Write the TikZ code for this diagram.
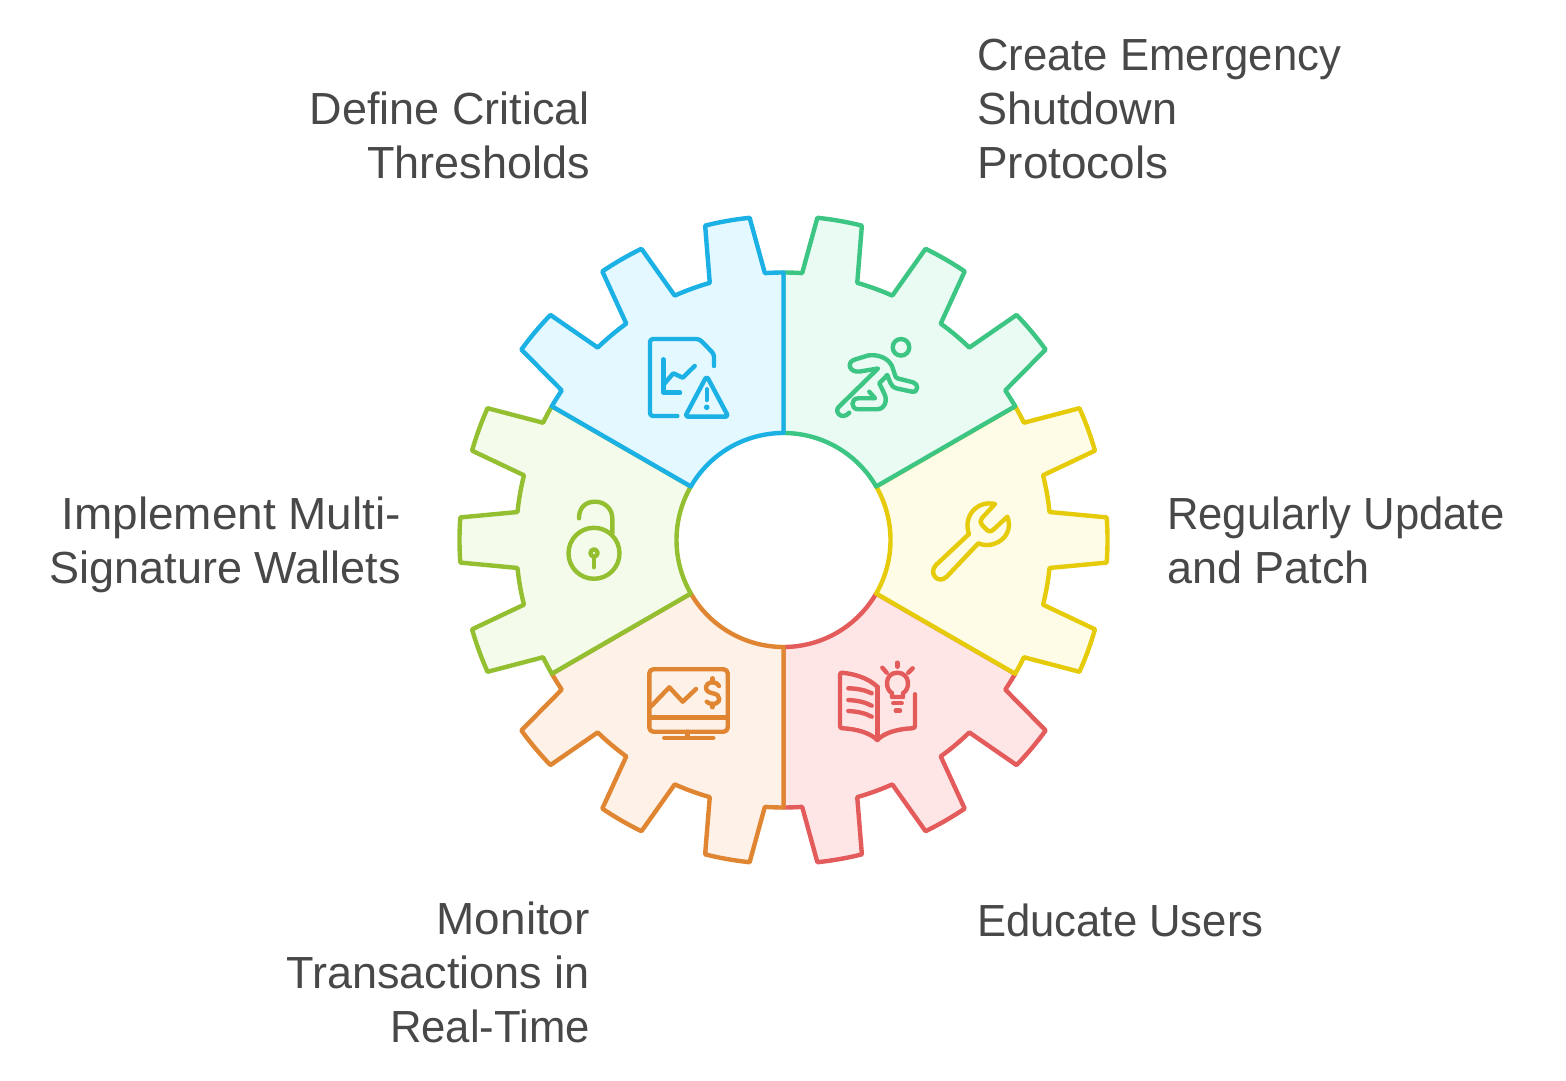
\documentclass[tikz,border=0pt]{standalone}
\usepackage{fontspec}
\setmainfont{Liberation Sans}
\newfontfamily\narrowface[FakeStretch=0.97]{Liberation Sans}
\newfontfamily\wideface[FakeStretch=1.02]{Liberation Sans}
\definecolor{blueline}{HTML}{1BB1E4}
\definecolor{bluefill}{HTML}{E4F8FF}
\definecolor{greenline}{HTML}{3CC583}
\definecolor{greenfill}{HTML}{E9FBF3}
\definecolor{yellowline}{HTML}{E5CB0A}
\definecolor{yellowfill}{HTML}{FEFCE6}
\definecolor{redline}{HTML}{E45B5B}
\definecolor{redfill}{HTML}{FFE6E6}
\definecolor{orangeline}{HTML}{E08632}
\definecolor{orangefill}{HTML}{FEF2E8}
\definecolor{limeline}{HTML}{93BF31}
\definecolor{limefill}{HTML}{F4FBEA}
\definecolor{textgrey}{HTML}{484848}

\begin{document}
\begin{tikzpicture}[x=1pt,y=1pt,
		sector/.style={line width=4.4pt,line join=round},
		icon/.style={line width=4.4pt,line cap=round,line join=round},
		imgframe/.style={shift={(0,1080)},yscale=-1},
		lbl/.style={inner sep=0pt,text=textgrey,font=\fontsize{45}{54}\selectfont}]
		\useasboundingbox (0,0) rectangle (1566,1080);
		
		\foreach \rot/\lin/\fil in {180/redline/redfill,240/yellowline/yellowfill,300/greenline/greenfill,120/orangeline/orangefill,60/limeline/limefill,0/blueline/bluefill}{
			\begin{scope}[shift={(783.5,540)},rotate=\rot]
				\draw[sector,draw=\lin,fill=\fil] (90:107) -- (90:267.5) arc[start angle=90,end angle=94,radius=267.5]
				\foreach \t/\e in {100/114,120/134,140/150}{
					-- (\t-4:324) arc[start angle=\t-4,end angle=\t+4,radius=324]
					-- (\t+6:267.5) arc[start angle=\t+6,end angle=\e,radius=267.5]
				}
				-- (150:107) arc[start angle=150,end angle=90,radius=107] -- cycle;
			\end{scope}
		}
		
		\begin{scope}[imgframe]
			\node[lbl,anchor=east,align=right] (define) at (590,135) {Define Critical\\Thresholds};
			\node[lbl,anchor=west,align=left] (create) at (977,109) {{\narrowface Create Emergency}\\Shutdown\\{\wideface Protocols}};
			\node[lbl,anchor=east,align=right] (multisig) at (401,545) {{\wideface Implement Multi-}\\Signature Wallets};
			\node[lbl,anchor=west,align=left] (patch) at (1167,540) {{\narrowface Regularly Update}\\and Patch};
			\node[lbl,anchor=east,align=right] (monitor) at (590,972) {{\wideface Monitor}\\Transactions in\\{\narrowface Real-Time}};
			\node[lbl,anchor=west,align=left] (educate) at (977,920) {{\narrowface Educate Users}};
			
			\begin{scope}[icon,color=blueline]
				\draw[rounded corners=3pt] (677.3,416) -- (650,416) -- (650,339) -- (699.3,339) -- (714,354) -- (714,366);
				\draw (663.3,359.3) -- (663.3,392.7) -- (680,392.7);
				\draw (663.3,385) -- (673.3,373.3) -- (682.7,377.7) -- (694.7,366);
				\draw[rounded corners=3pt] (706.7,376) -- (685,416.7) -- (728.4,416.7) -- cycle;
				\draw (706.7,389.3) -- (706.7,400);
				\fill (706.7,407.3) circle (2.8);
			\end{scope}
			
			\begin{scope}[icon,color=greenline]
				\draw (901,347.3) circle (8.3);
				\draw (849.3,412.7) .. controls (846,416.5) and (841.5,417) .. (838.8,414.2) .. controls (836.5,411.5) and (836.7,409) .. (839,406.7) -- (878,368.5) -- (860,371.5) .. controls (849,373) and (846,362) .. (855,359.5) -- (868,355.5) .. controls (878,354) and (888,358) .. (892,366) -- (895,375) .. controls (895.5,377) and (896,378) .. (898,378.5) -- (913,382.3) .. controls (919,384) and (918.5,392.5) .. (912,391.7) -- (897,388.5) .. controls (893,387.5) and (891,385) .. (890,382) -- (887.3,375) -- (879.3,383.3) -- (884,393) .. controls (888,400) and (885,409.3) .. (876.7,409.3) -- (858.3,409.3) .. controls (850.5,409.3) and (850.5,398.3) .. (858.3,398.3) -- (875,398.3) -- (869.3,391.7);
			\end{scope}
			
			\begin{scope}[icon,color=yellowline]
				\draw (995,504) .. controls (976.7,500) and (962.7,516.7) .. (969,534) -- (936,565) .. controls (928,573) and (938,585) .. (946.7,576.7) -- (978.3,543.3) .. controls (993.3,550) and (1015,536.7) .. (1007.3,516.7) -- (993,530) .. controls (991,532) and (989,532) .. (987,530) -- (982,525) .. controls (980,523) and (980,520) .. (982,518) -- cycle;
			\end{scope}
			
			\begin{scope}[icon,color=limeline]
				\draw (594,553.3) circle (25.5);
				\draw (579,518.3) .. controls (579,507) and (586,501.7) .. (595,501.7) .. controls (605,501.7) and (612.3,509) .. (612.3,518.3) -- (612.3,533.3);
				\draw (594,553) circle (3.6);
				\draw (594,557) -- (594,567.3);
			\end{scope}
			
			\begin{scope}[icon,color=orangeline]
				\draw[rounded corners=4pt] (649.3,669.3) rectangle (727.7,731.7);
				\draw (649.3,717.7) -- (727.7,717.7);
				\draw (687.3,731.7) -- (687.3,737.7);
				\draw (664.3,737.7) -- (713.3,737.7);
				\draw (650.7,706.7) -- (669.3,687.3) -- (682.7,701.7) -- (696,689);
				\draw (719,686) .. controls (717,683) and (715,682.3) .. (712.7,682.3) .. controls (709,682.3) and (706,684.5) .. (706,687.7) .. controls (706,691) and (709,692.5) .. (712.7,693.3) .. controls (717,694) and (719.3,696) .. (719.3,699) .. controls (719.3,702) and (716,704) .. (712.7,704) .. controls (710,704) and (708,703) .. (706.7,701.7);
				\draw (712.3,678.3) -- (712.3,682.3);
				\draw (712.3,704) -- (712.3,707.3);
			\end{scope}
			
			\begin{scope}[icon,color=redline]
				\draw (877.3,686.7) .. controls (868,678) and (855,674) .. (842,672.7) .. controls (840.7,672.6) and (840,673.5) .. (840,675) -- (840,726) .. controls (840,728) and (841,728.3) .. (843,728.3) .. controls (857,729) and (870,733) .. (877.3,740) .. controls (884,733) and (897,729) .. (912,728.3) .. controls (914,728.2) and (915,727.5) .. (915,726) -- (915,694.3);
				\draw (877.3,686.7) -- (877.3,740);
				\draw (848.3,688.3) .. controls (857,688.5) and (865,690) .. (871.7,693.3);
				\draw (848.3,700) .. controls (857,700.5) and (865,702) .. (871.7,705.7);
				\draw (848.3,711) .. controls (857,711.5) and (865,713) .. (871.7,716.7);
				\draw (892,697) -- (892,693) .. controls (885,690) and (884,673) .. (897.3,672.7) .. controls (911,673) and (910,690) .. (903,693) -- (903,697) -- cycle;
				\draw (893.3,703.3) -- (901.7,703.3);
				\draw (895.7,710.7) -- (900,710.7);
				\draw (897.3,662.7) -- (897.3,666.7);
				\draw (882.3,667.7) -- (886.7,672.7);
				\draw (912.7,668.3) -- (908.3,672.7);
			\end{scope}
		\end{scope}
		
	\end{tikzpicture}
\end{document}
